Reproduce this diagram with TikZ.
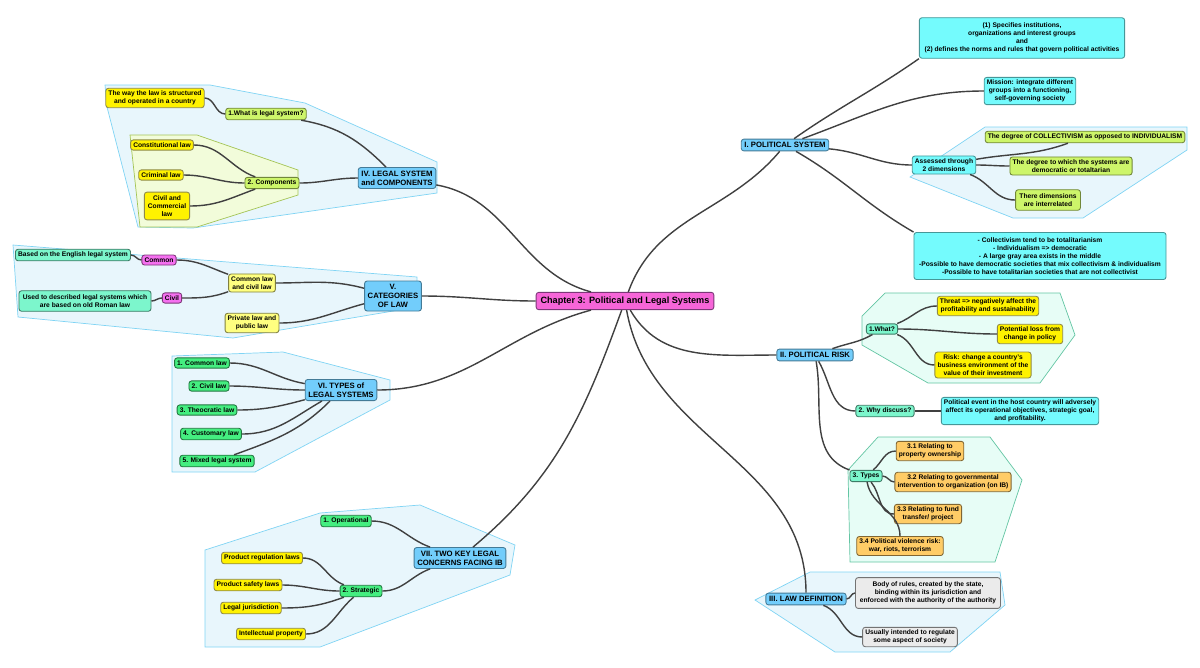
\documentclass[tikz,border=0pt]{standalone}
\usepackage{fontspec}
\setmainfont{Liberation Sans}
\begin{document}
\begin{tikzpicture}
[x=0.02cm,y=-0.02cm,
box/.style={draw,rounded corners=1.5pt,line width=0.5pt,align=center,inner sep=1.5pt,font=\fontsize{3.8}{4.5}\selectfont\bfseries},
cat/.style={box,fill=catblue,draw=catblue!60!black,font=\fontsize{4.4}{5.2}\selectfont\bfseries,inner sep=1.8pt},
cyanbox/.style={box,fill=cyanf,draw=cyanf!60!black},
lime/.style={box,fill=limef,draw=limef!55!black},
yel/.style={box,fill=yellow,draw=yellow!50!black},
lyel/.style={box,fill=lyelf,draw=lyelf!50!black},
aqua/.style={box,fill=aquaf,draw=aquaf!50!black},
grn/.style={box,fill=grnf,draw=grnf!50!black},
ora/.style={box,fill=oraf,draw=oraf!50!black},
mag/.style={box,fill=magf,draw=magf!50!black},
gry/.style={box,fill=black!8,draw=black!55},
link/.style={draw=black!75,line width=0.8pt},
zone/.style={draw=zoneb,fill=zonef,line width=0.4pt}]
\definecolor{catblue}{HTML}{72CDFB}
\definecolor{cyanf}{HTML}{74FBFD}
\definecolor{limef}{HTML}{CDF56A}
\definecolor{lyelf}{HTML}{FFFF80}
\definecolor{aquaf}{HTML}{7CF6CC}
\definecolor{grnf}{HTML}{44EE80}
\definecolor{oraf}{HTML}{FFCC66}
\definecolor{magf}{HTML}{F570F0}
\definecolor{zonef}{HTML}{E8F6FC}
\definecolor{zoneb}{HTML}{80D4F4}
\useasboundingbox (0,0) rectangle (1200,667);

% the zones
\draw[zone] (105,85) -- (210,85) -- (305,103) -- (437,162) -- (437,193) -- (193,228) -- (138,227) -- (107,107) -- cycle;
\draw[draw=limef!80!black,fill=limef!25] (130,135) -- (197,135) -- (298,170) -- (298,195) -- (197,227) -- (140,227) -- cycle;
\draw[zone] (13,245) -- (417,277) -- (417,307) -- (233,338) -- (18,317) -- cycle;
\draw[zone] (910,177) -- (985,127) -- (1187,127) -- (1187,150) -- (1083,218) -- (1013,218) -- cycle;
\draw[draw=aquaf!80!black,fill=aquaf!18] (862,316) -- (885,293) -- (1060,293) -- (1075,335) -- (1040,383) -- (928,383) -- (862,345) -- cycle;
\draw[draw=aquaf!80!black,fill=aquaf!18] (848,470) -- (878,437) -- (990,437) -- (1022,480) -- (995,562) -- (850,562) -- cycle;
\draw[zone] (755,600) -- (810,572) -- (1000,572) -- (1005,605) -- (950,652) -- (835,652) -- cycle;
\draw[zone] (172,356) -- (283,352) -- (390,380) -- (390,400) -- (255,472) -- (172,472) -- cycle;
\draw[zone] (205,550) -- (320,513) -- (420,505) -- (515,545) -- (510,575) -- (320,647) -- (205,647) -- cycle;

% the centre
\node (main) at (625,301)[box,fill=magf!90!red,draw=magf!50!black,font=\fontsize{5.2}{6}\selectfont\bfseries,inner sep=2.5pt] {Chapter 3: Political and Legal Systems};

% I. political system
\node (ps) at (785,145)[cat] {I. POLITICAL SYSTEM};
\node (psA) at (1022,38)[cyanbox,inner sep=3pt] {(1) Specifies institutions,\\organizations and interest groups\\and\\(2) defines the norms and rules that govern political activities};
\node (psB) at (1030,91)[cyanbox] {Mission: integrate different\\groups into a functioning,\\self-governing society};
\node (psC) at (944,165)[cyanbox] {Assessed through\\2 dimensions};
\node (dimA) at (1085,137)[lime] {The degree of COLLECTIVISM as opposed to INDIVIDUALISM};
\node (dimB) at (1071,166)[lime] {The degree to which the systems are\\democratic or totaltarian};
\node (dimC) at (1048,200)[lime,inner sep=2.2pt] {There dimensions\\are interrelated};
\node (psD) at (1040,256)[cyanbox,inner sep=3pt] {- Collectivism tend to be totalitarianism\\- Individualism => democratic\\- A large gray area exists in the middle\\-Possible to have democratic societies that mix collectivism \& individualism\\-Possible to have totalitarian societies that are not collectivist};

% II. political risk
\node (pr) at (815,355)[cat] {II. POLITICAL RISK};
\node (what) at (882,329)[aqua] {1.What?};
\node (riskA) at (988,306)[yel] {Threat => negatively affect the\\profitability and sustainability};
\node (riskB) at (1030,334)[yel] {Potential loss from\\change in policy};
\node (riskC) at (983,365)[yel] {Risk: change a country's\\business environment of the\\value of their investment};
\node (why) at (885,411)[aqua] {2. Why discuss?};
\node (whyA) at (1020,411)[cyanbox] {Political event in the host country will adversely\\affect its operational objectives, strategic goal,\\and profitability.};
\node (types) at (866,476)[aqua] {3. Types};
\node (typeA) at (930,451)[ora] {3.1 Relating to\\property ownership};
\node (typeB) at (953,482)[ora] {3.2 Relating to governmental\\intervention to organization (on IB)};
\node (typeC) at (928,514)[ora] {3.3 Relating to fund\\transfer/ project};
\node (typeD) at (900,546)[ora] {3.4 Political violence risk:\\war, riots, terrorism};

% III. law definition
\node (ld) at (806,599)[cat] {III. LAW DEFINITION};
\node (ldA) at (928,593)[gry,inner sep=2.5pt] {Body of rules, created by the state,\\binding within its jurisdiction and\\enforced with the authority of the authority};
\node (ldB) at (910,637)[gry] {Usually intended to regulate\\some aspect of society};

% IV. legal system
\node (ls) at (397,178)[cat] {IV. LEGAL SYSTEM\\and COMPONENTS};
\node (lsA) at (266,114)[lime] {1.What is legal system?};
\node (lsAa) at (155,98)[yel] {The way the law is structured\\and operated in a country};
\node (comp) at (272,183)[lime] {2. Components};
\node (compA) at (162,145)[yel] {Constitutional law};
\node (compB) at (161,175)[yel] {Criminal law};
\node (compC) at (167,206)[yel,inner sep=2pt] {Civil and\\Commercial\\law};

% V. categories
\node (cl) at (393,296)[cat] {V.\\CATEGORIES\\OF LAW};
\node (clA) at (252,283)[lyel] {Common law\\and civil law};
\node (clB) at (252,323)[lyel] {Private law and\\public law};
\node (common) at (159,260)[mag] {Common};
\node (civil) at (172,298)[mag] {Civil};
\node (commonA) at (73,255)[aqua] {Based on the English legal system};
\node (civilA) at (85,301)[aqua,inner sep=2.2pt] {Used to described legal systems which\\are based on old Roman law};

% VI. types of legal systems
\node (tl) at (341,390)[cat] {VI. TYPES of\\LEGAL SYSTEMS};
\node (tlA) at (202,363)[grn] {1. Common law};
\node (tlB) at (209,386)[grn] {2. Civil law};
\node (tlC) at (207,410)[grn] {3. Theocratic law};
\node (tlD) at (211,434)[grn] {4. Customary law};
\node (tlE) at (217,461)[grn] {5. Mixed legal system};

% VII. two key legal concerns
\node (kc) at (460,558)[cat] {VII. TWO KEY LEGAL\\CONCERNS FACING IB};
\node (op) at (346,521)[grn] {1. Operational};
\node (st) at (361,591)[grn] {2. Strategic};
\node (stA) at (262,558)[yel] {Product regulation laws};
\node (stB) at (248,585)[yel] {Product safety laws};
\node (stC) at (251,608)[yel] {Legal jurisdiction};
\node (stD) at (271,634)[yel] {Intellectual property};

% the links
\draw[link] (main) to[out=70,in=230] (ps);
\draw[link] (main) to[out=-60,in=180] (pr);
\draw[link] (main) to[out=-80,in=90] (ld);
\draw[link] (main) to[out=-110,in=40] (kc);
\draw[link] (main) to[out=195,in=0] (tl);
\draw[link] (main) to[out=180,in=0] (cl);
\draw[link] (main) to[out=165,in=-10] (ls);

\draw[link] (ps) to[out=35,in=215] (psA.south west);
\draw[link] (ps) to[out=20,in=180] (psB);
\draw[link] (ps) to[out=-5,in=180] (psC);
\draw[link] (ps) to[out=-30,in=150] (psD.north west);
\draw[link] (psC) to[out=10,in=200] (dimA);
\draw[link] (psC) to[out=0,in=180] (dimB);
\draw[link] (psC) to[out=-20,in=180] (dimC);

\draw[link] (pr) to[out=20,in=210] (what);
\draw[link] (pr) to[out=-60,in=180] (why);
\draw[link] (pr) to[out=-80,in=160] (types);
\draw[link] (what) to[out=20,in=180] (riskA);
\draw[link] (what) to[out=0,in=180] (riskB);
\draw[link] (what) to[out=-20,in=180] (riskC);
\draw[link] (why) to[out=0,in=180] (whyA);
\draw[link] (types) to[out=40,in=180] (typeA);
\draw[link] (types) to[out=0,in=180] (typeB);
\draw[link] (types) to[out=-50,in=180] (typeC);
\draw[link] (types) to[out=-80,in=90] (typeD);

\draw[link] (ld) to[out=0,in=180] (ldA);
\draw[link] (ld) to[out=-20,in=180] (ldB);

\draw[link] (ls) to[out=135,in=-10] (lsA);
\draw[link] (ls) to[out=180,in=0] (comp);
\draw[link] (lsA) to[out=180,in=0] (lsAa);
\draw[link] (comp) to[out=160,in=0] (compA);
\draw[link] (comp) to[out=180,in=0] (compB);
\draw[link] (comp) to[out=200,in=0] (compC);

\draw[link] (cl) to[out=165,in=0] (clA);
\draw[link] (cl) to[out=195,in=0] (clB);
\draw[link] (clA) to[out=160,in=0] (common);
\draw[link] (clA) to[out=200,in=0] (civil);
\draw[link] (common) to[out=180,in=0] (commonA);
\draw[link] (civil) to[out=180,in=0] (civilA);

\draw[link] (tl) to[out=170,in=0] (tlA);
\draw[link] (tl) to[out=180,in=0] (tlB);
\draw[link] (tl) to[out=195,in=0] (tlC);
\draw[link] (tl) to[out=210,in=0] (tlD);
\draw[link] (tl) to[out=225,in=20] (tlE);

\draw[link] (kc) to[out=160,in=0] (op);
\draw[link] (kc) to[out=200,in=0] (st);
\draw[link] (st) to[out=160,in=0] (stA);
\draw[link] (st) to[out=180,in=0] (stB);
\draw[link] (st) to[out=200,in=0] (stC);
\draw[link] (st) to[out=220,in=0] (stD);
\end{tikzpicture}
\end{document}
